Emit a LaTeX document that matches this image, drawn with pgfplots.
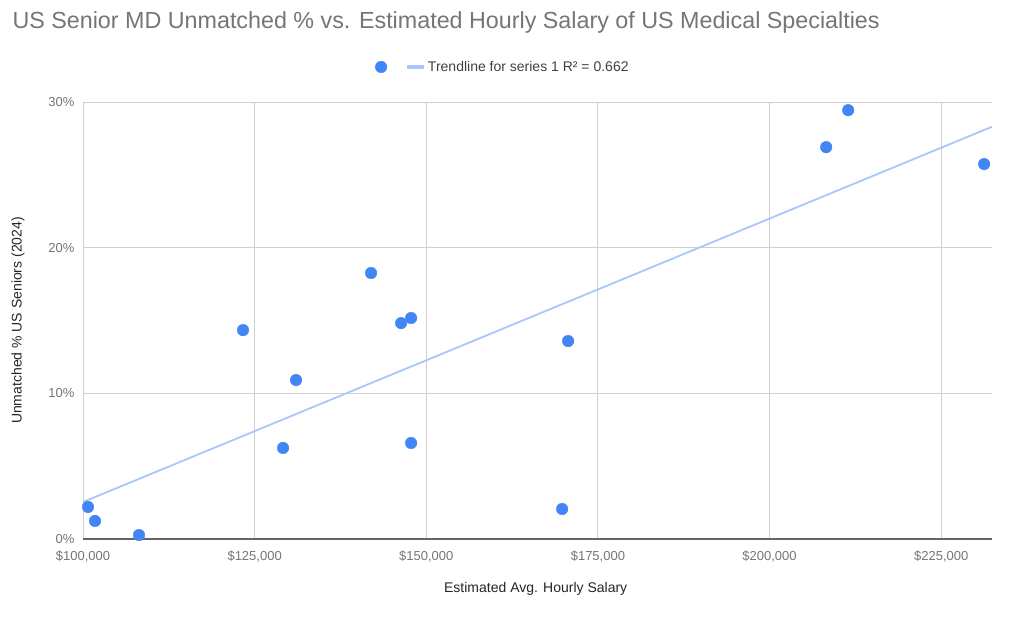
\documentclass[border=0pt]{standalone}
\usepackage{pgfplots}
\pgfplotsset{compat=1.18}
\usepackage{fontspec}
\setmainfont{Liberation Sans}
\definecolor{ptblue}{HTML}{4285F4}
\definecolor{trend}{HTML}{A8C7FA}
\definecolor{tickgray}{HTML}{757575}
\definecolor{gridgray}{HTML}{D0D0D0}
\begin{document}
\begin{tikzpicture}[x=1pt,y=1pt]
\path[use as bounding box] (0,0) rectangle (1024,621);
\node[anchor=west,text=tickgray,font=\fontsize{23.3}{27}\selectfont] at (9,599) {US Senior MD Unmatched \% vs. Estimated Hourly Salary of US Medical Specialties};
\begin{axis}[
  at={(83pt,82pt)}, anchor=south west,
  scale only axis, width=909pt, height=437pt,
  xmin=100000, xmax=232400, ymin=0, ymax=30,
  xtick={100000,125000,150000,175000,200000,225000},
  xticklabels={{\$100,000},{\$125,000},{\$150,000},{\$175,000},{\$200,000},{\$225,000}},
  ytick={0,10,20,30},
  yticklabels={0\%,10\%,20\%,30\%},
  scaled x ticks=false,
  tick style={draw=none},
  ticklabel style={font=\fontsize{13}{15}\selectfont, text=tickgray},
  xticklabel style={yshift=-8pt},
  yticklabel style={xshift=-5pt},
  grid=major, major grid style={draw=gridgray, line width=0.9pt},
  axis line style={draw=none},
  clip=false,
  xlabel={Estimated Avg. Hourly Salary},
  ylabel={Unmatched \% US Seniors (2024)},
  label style={font=\fontsize{14}{16}\selectfont, text=black!85},
  xlabel style={at={(axis description cs:0.498,0)}, anchor=center, yshift=-50pt},
  ylabel style={at={(axis description cs:0,0.5)}, anchor=center, yshift=65pt},
  legend style={at={(0.462,1.0)}, anchor=south, yshift=25pt, draw=none, fill=none,
    font=\fontsize{14}{16}\selectfont, text=black!75, legend columns=2,
    /tikz/every even column/.append style={column sep=14pt}},
  legend cell align=left,
]
\addplot[only marks, mark=*, mark size=5.8pt, mark options={draw=ptblue, fill=ptblue}, color=ptblue] coordinates {
(100730,2.2) (101750,1.24) (108160,0.27) (123310,14.34) (129140,6.25)
(131030,10.91) (141960,18.26) (146330,14.82) (147790,15.17) (147790,6.59)
(169790,2.06) (170660,13.59) (208250,26.9) (211450,29.44) (231260,25.74)
};
\addlegendentry{}
\addplot[trend, line width=1.8pt, forget plot] coordinates {(100000,2.54) (232400,28.3)};
\addplot[trend, line width=4pt, legend image post style={line width=4pt}] coordinates {(0,-100) (1,-100)};
\addlegendentry{Trendline for series 1 R² = 0.662}
\draw[black!60, line width=1.8pt] (axis cs:100000,0) -- (axis cs:232400,0);
\end{axis}
\end{tikzpicture}
\end{document}
